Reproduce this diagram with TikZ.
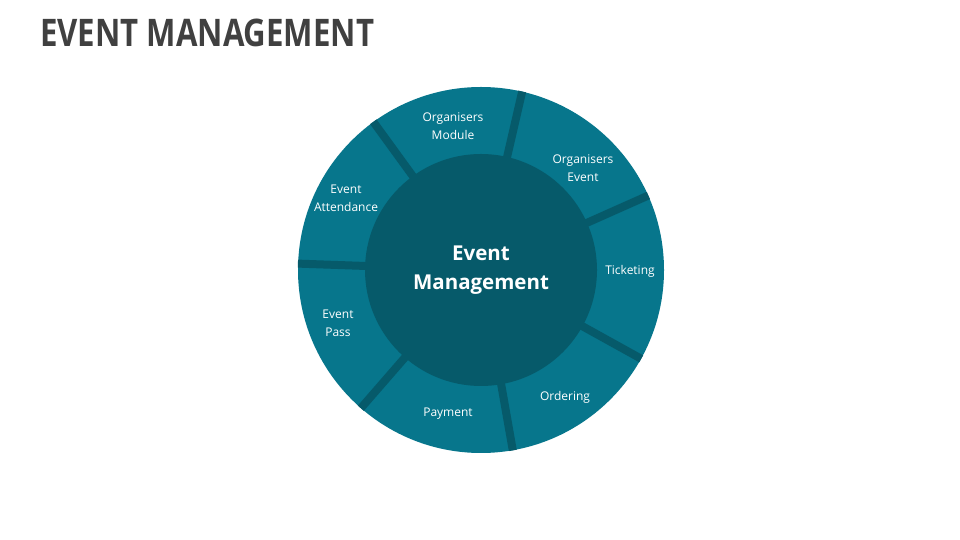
\documentclass[tikz,border=0pt]{standalone}
\usepackage{fontspec}
\setmainfont{Open Sans}
\newfontfamily\titlefont[FakeStretch=0.82]{Open Sans}
\definecolor{RingTeal}{RGB}{7,118,140}
\definecolor{HubTeal}{RGB}{6,90,106}
\definecolor{TitleGray}{RGB}{64,64,64}
\tikzset{
Segment/.style={text=white,align=center,inner sep=1pt,font=\fontsize{12}{18}\selectfont},
Divider/.style={draw=HubTeal,line width=8pt}
}
\begin{document}
\begin{tikzpicture}[x=1pt,y=1pt]
	\useasboundingbox (0,0) rectangle (960,540);
	
	\node[anchor=base west,inner sep=0pt,text=TitleGray,font=\titlefont\fontsize{38}{44}\selectfont\bfseries] (Title) at (40,493) {EVENT MANAGEMENT};
	
	% outer ring and its dividers
	\node[circle,fill=RingTeal,minimum size=366pt,inner sep=0pt] (Ring) at (481,270) {};
	\foreach \a in {77,24,-29,-80,-131,178,126}{
		\draw[Divider] (Ring.center) -- (Ring.\a);
	}
	
	% hub
	\node[circle,fill=HubTeal,minimum size=232pt,inner sep=0pt,align=center,text=white,font=\fontsize{20.5}{29}\selectfont\bfseries] (Hub) at (Ring.center) {Event\\Management};
	
	% segment labels
	\node[Segment] (OrgModule) at (453,414) {Organisers\\Module};
	\node[Segment] (OrgEvent) at (583,372) {Organisers\\Event};
	\node[Segment] (Ticketing) at (630,269) {Ticketing};
	\node[Segment] (Ordering) at (565,143) {Ordering};
	\node[Segment] (Payment) at (448,126) {Payment};
	\node[Segment] (EventPass) at (338,217) {Event\\Pass};
	\node[Segment] (EventAttend) at (346,342) {Event\\Attendance};
	
\end{tikzpicture}
\end{document}
